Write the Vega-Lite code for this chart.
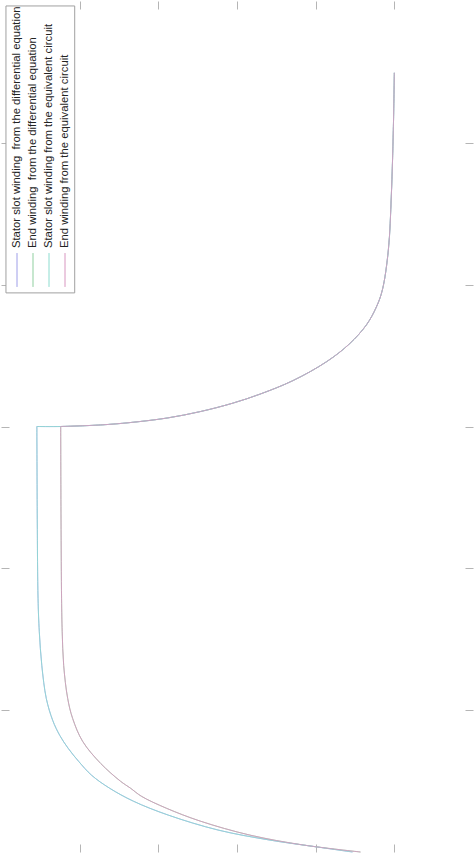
{
  "$schema": "https://vega.github.io/schema/vega-lite/v6.json",
  "width": 474,
  "height": 854,
  "autosize": {"type": "fit", "contains": "padding"},
  "padding": 0,
  "background": "white",
  "config": {
    "view": {"stroke": null},
    "axis": {
      "labels": false,
      "domain": false,
      "grid": false,
      "ticks": true,
      "tickSize": -8,
      "tickColor": "#b5b5b5",
      "tickWidth": 1
    },
    "text": {"font": "Liberation Sans"}
  },
  "datasets": {
    "slot": [
      {"seg": "rise", "i": 0, "t": 0, "v": 1.532},
      {"seg": "rise", "i": 1, "t": 0.035, "v": 1.975},
      {"seg": "rise", "i": 2, "t": 0.084, "v": 2.582},
      {"seg": "rise", "i": 3, "t": 0.155, "v": 3.241},
      {"seg": "rise", "i": 4, "t": 0.26, "v": 3.873},
      {"seg": "rise", "i": 5, "t": 0.358, "v": 4.316},
      {"seg": "rise", "i": 6, "t": 0.45, "v": 4.62},
      {"seg": "rise", "i": 7, "t": 0.541, "v": 4.848},
      {"seg": "rise", "i": 8, "t": 0.639, "v": 5.013},
      {"seg": "rise", "i": 9, "t": 0.731, "v": 5.146},
      {"seg": "rise", "i": 10, "t": 0.822, "v": 5.253},
      {"seg": "rise", "i": 11, "t": 0.927, "v": 5.342},
      {"seg": "rise", "i": 12, "t": 1.082, "v": 5.424},
      {"seg": "rise", "i": 13, "t": 1.314, "v": 5.481},
      {"seg": "rise", "i": 14, "t": 1.553, "v": 5.513},
      {"seg": "rise", "i": 15, "t": 1.785, "v": 5.529},
      {"seg": "rise", "i": 16, "t": 2.347, "v": 5.539},
      {"seg": "rise", "i": 17, "t": 3.0, "v": 5.544},
      {"seg": "fall", "i": 18, "t": 3.0, "v": 5.544},
      {"seg": "fall", "i": 19, "t": 3.0, "v": 5.241},
      {"seg": "fall", "i": 20, "t": 3.011, "v": 4.734},
      {"seg": "fall", "i": 21, "t": 3.028, "v": 4.354},
      {"seg": "fall", "i": 22, "t": 3.06, "v": 3.886},
      {"seg": "fall", "i": 23, "t": 3.105, "v": 3.468},
      {"seg": "fall", "i": 24, "t": 3.165, "v": 3.051},
      {"seg": "fall", "i": 25, "t": 3.228, "v": 2.709},
      {"seg": "fall", "i": 26, "t": 3.323, "v": 2.291},
      {"seg": "fall", "i": 27, "t": 3.457, "v": 1.861},
      {"seg": "fall", "i": 28, "t": 3.583, "v": 1.57},
      {"seg": "fall", "i": 29, "t": 3.717, "v": 1.354},
      {"seg": "fall", "i": 30, "t": 3.843, "v": 1.228},
      {"seg": "fall", "i": 31, "t": 3.963, "v": 1.152},
      {"seg": "fall", "i": 32, "t": 4.244, "v": 1.076},
      {"seg": "fall", "i": 33, "t": 4.63, "v": 1.038},
      {"seg": "fall", "i": 34, "t": 5.087, "v": 1.013},
      {"seg": "fall", "i": 35, "t": 5.494, "v": 1.0}
    ],
    "end": [
      {"seg": "rise", "i": 0, "t": 0, "v": 1.43},
      {"seg": "rise", "i": 1, "t": 0.049, "v": 2.152},
      {"seg": "rise", "i": 2, "t": 0.119, "v": 2.835},
      {"seg": "rise", "i": 3, "t": 0.218, "v": 3.468},
      {"seg": "rise", "i": 4, "t": 0.309, "v": 3.899},
      {"seg": "rise", "i": 5, "t": 0.393, "v": 4.215},
      {"seg": "rise", "i": 6, "t": 0.45, "v": 4.354},
      {"seg": "rise", "i": 7, "t": 0.499, "v": 4.481},
      {"seg": "rise", "i": 8, "t": 0.625, "v": 4.734},
      {"seg": "rise", "i": 9, "t": 0.78, "v": 4.962},
      {"seg": "rise", "i": 10, "t": 0.941, "v": 5.089},
      {"seg": "rise", "i": 11, "t": 1.082, "v": 5.152},
      {"seg": "rise", "i": 12, "t": 1.314, "v": 5.203},
      {"seg": "rise", "i": 13, "t": 1.553, "v": 5.222},
      {"seg": "rise", "i": 14, "t": 1.785, "v": 5.23},
      {"seg": "rise", "i": 15, "t": 2.347, "v": 5.237},
      {"seg": "rise", "i": 16, "t": 3.0, "v": 5.241},
      {"seg": "fall", "i": 17, "t": 3.0, "v": 5.241},
      {"seg": "fall", "i": 18, "t": 3.011, "v": 4.734},
      {"seg": "fall", "i": 19, "t": 3.028, "v": 4.354},
      {"seg": "fall", "i": 20, "t": 3.06, "v": 3.886},
      {"seg": "fall", "i": 21, "t": 3.105, "v": 3.468},
      {"seg": "fall", "i": 22, "t": 3.165, "v": 3.051},
      {"seg": "fall", "i": 23, "t": 3.228, "v": 2.709},
      {"seg": "fall", "i": 24, "t": 3.323, "v": 2.291},
      {"seg": "fall", "i": 25, "t": 3.457, "v": 1.861},
      {"seg": "fall", "i": 26, "t": 3.583, "v": 1.57},
      {"seg": "fall", "i": 27, "t": 3.717, "v": 1.354},
      {"seg": "fall", "i": 28, "t": 3.843, "v": 1.228},
      {"seg": "fall", "i": 29, "t": 3.963, "v": 1.152},
      {"seg": "fall", "i": 30, "t": 4.244, "v": 1.076},
      {"seg": "fall", "i": 31, "t": 4.63, "v": 1.038},
      {"seg": "fall", "i": 32, "t": 5.087, "v": 1.013},
      {"seg": "fall", "i": 33, "t": 5.494, "v": 1.0}
    ],
    "legend": [
      {"label": "Stator slot winding\u00a0 from the differential equation"},
      {"label": "End winding\u00a0 from the differential equation"},
      {"label": "Stator slot winding from the equivalent circuit"},
      {"label": "End winding from the equivalent circuit"}
    ]
  },
  "layer": [
    {
      "layer": [
        {
          "data": {"values": [{}]},
          "mark": {"type": "rect", "fill": "white", "stroke": "#a0a0a0", "strokeWidth": 1},
          "encoding": {
            "x": {"datum": 5.937, "type": "quantitative", "scale": {"domain": [0, 6], "reverse": true, "nice": false, "zero": false}, "axis": {"orient": "top", "values": [1, 2, 3, 4, 5], "title": null}},
            "x2": {"datum": 5.063},
            "y": {"datum": 5.965, "type": "quantitative", "scale": {"domain": [0, 6], "nice": false, "zero": false}, "axis": {"orient": "right", "values": [1, 2, 3, 4, 5], "title": null}},
            "y2": {"datum": 3.942}
          }
        },
        {
          "data": {"name": "slot"},
          "mark": {"type": "line", "strokeWidth": 1, "opacity": 0.8, "interpolate": "catmull-rom"},
          "encoding": {
            "x": {"field": "v", "type": "quantitative", "scale": {"domain": [0, 6], "reverse": true, "nice": false, "zero": false}, "axis": {"orient": "bottom", "values": [1, 2, 3, 4, 5], "title": null}},
            "y": {"field": "t", "type": "quantitative", "scale": {"domain": [0, 6], "nice": false, "zero": false}, "axis": {"orient": "left", "values": [1, 2, 3, 4, 5], "title": null}},
            "detail": {"field": "seg"},
            "order": {"field": "i"},
            "color": {
              "datum": "Stator slot winding\u00a0 from the differential equation",
              "type": "nominal",
              "scale": {
                "domain": [
                  "Stator slot winding\u00a0 from the differential equation",
                  "End winding\u00a0 from the differential equation",
                  "Stator slot winding from the equivalent circuit",
                  "End winding from the equivalent circuit"
                ],
                "range": ["#9e9ee8", "#8fcf9f", "#8cdccf", "#d896c0"]
              },
              "legend": null
            }
          }
        },
        {
          "data": {"name": "end"},
          "mark": {"type": "line", "strokeWidth": 1, "opacity": 0.8, "interpolate": "catmull-rom"},
          "encoding": {
            "x": {"field": "v", "type": "quantitative", "axis": null},
            "y": {"field": "t", "type": "quantitative", "axis": null},
            "detail": {"field": "seg"},
            "order": {"field": "i"},
            "color": {"datum": "End winding\u00a0 from the differential equation", "type": "nominal", "legend": null}
          }
        },
        {
          "data": {"name": "slot"},
          "mark": {"type": "line", "strokeWidth": 1, "opacity": 0.8, "interpolate": "catmull-rom"},
          "encoding": {
            "x": {"field": "v", "type": "quantitative", "axis": null},
            "y": {"field": "t", "type": "quantitative", "axis": null},
            "detail": {"field": "seg"},
            "order": {"field": "i"},
            "color": {"datum": "Stator slot winding from the equivalent circuit", "type": "nominal", "legend": null}
          }
        },
        {
          "data": {"name": "end"},
          "mark": {"type": "line", "strokeWidth": 1, "opacity": 0.8, "interpolate": "catmull-rom"},
          "encoding": {
            "x": {"field": "v", "type": "quantitative", "axis": null},
            "y": {"field": "t", "type": "quantitative", "axis": null},
            "detail": {"field": "seg"},
            "order": {"field": "i"},
            "color": {"datum": "End winding from the equivalent circuit", "type": "nominal", "legend": null}
          }
        }
      ],
      "resolve": {"axis": {"x": "independent", "y": "independent"}}
    },
    {
      "data": {"name": "legend"},
      "encoding": {
        "x": {"field": "label", "type": "nominal", "sort": null, "scale": {"type": "point", "range": [16, 64], "padding": 0}, "axis": null}
      },
      "layer": [
        {
          "mark": {"type": "rule", "strokeWidth": 1},
          "encoding": {
            "y": {"datum": 3.984, "type": "quantitative", "axis": null},
            "y2": {"datum": 4.223},
            "color": {"field": "label", "type": "nominal", "legend": null}
          }
        },
        {
          "mark": {"type": "text", "angle": 270, "align": "left", "baseline": "middle", "fontSize": 11.3, "color": "#222222"},
          "encoding": {
            "y": {"datum": 4.258, "type": "quantitative", "axis": null},
            "text": {"field": "label"}
          }
        }
      ]
    }
  ],
  "resolve": {"scale": {"x": "independent"}}
}
